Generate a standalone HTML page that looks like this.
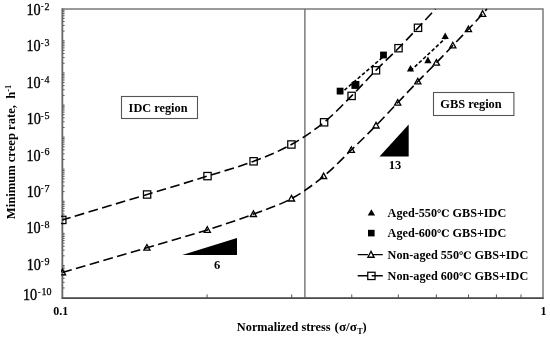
<!DOCTYPE html>
<html><head><meta charset="utf-8"><title>Creep rate vs normalized stress</title>
<style>html,body{margin:0;padding:0;background:#fff;}svg{display:block;}</style>
</head><body>
<svg width="550" height="338" viewBox="0 0 550 338">
<rect width="550" height="338" fill="#fff"/>
<rect x="62.4" y="9.0" width="480.6" height="289.0" fill="none" stroke="#7a7a7a" stroke-width="1.5"/>
<path d="M62.4,31.14h2.2 M62.4,25.48h2.2 M62.4,21.47h2.2 M62.4,18.36h2.2 M62.4,15.82h2.2 M62.4,13.67h2.2 M62.4,11.81h2.2 M62.4,10.17h2.2 M62.4,40.80h2.2 M62.4,63.24h2.2 M62.4,57.58h2.2 M62.4,53.57h2.2 M62.4,50.46h2.2 M62.4,47.92h2.2 M62.4,45.77h2.2 M62.4,43.91h2.2 M62.4,42.27h2.2 M62.4,72.90h2.2 M62.4,95.34h2.2 M62.4,89.68h2.2 M62.4,85.67h2.2 M62.4,82.56h2.2 M62.4,80.02h2.2 M62.4,77.87h2.2 M62.4,76.01h2.2 M62.4,74.37h2.2 M62.4,105.00h2.2 M62.4,127.44h2.2 M62.4,121.78h2.2 M62.4,117.77h2.2 M62.4,114.66h2.2 M62.4,112.12h2.2 M62.4,109.97h2.2 M62.4,108.11h2.2 M62.4,106.47h2.2 M62.4,137.10h2.2 M62.4,159.54h2.2 M62.4,153.88h2.2 M62.4,149.87h2.2 M62.4,146.76h2.2 M62.4,144.22h2.2 M62.4,142.07h2.2 M62.4,140.21h2.2 M62.4,138.57h2.2 M62.4,169.20h2.2 M62.4,191.64h2.2 M62.4,185.98h2.2 M62.4,181.97h2.2 M62.4,178.86h2.2 M62.4,176.32h2.2 M62.4,174.17h2.2 M62.4,172.31h2.2 M62.4,170.67h2.2 M62.4,201.30h2.2 M62.4,223.74h2.2 M62.4,218.08h2.2 M62.4,214.07h2.2 M62.4,210.96h2.2 M62.4,208.42h2.2 M62.4,206.27h2.2 M62.4,204.41h2.2 M62.4,202.77h2.2 M62.4,233.40h2.2 M62.4,255.84h2.2 M62.4,250.18h2.2 M62.4,246.17h2.2 M62.4,243.06h2.2 M62.4,240.52h2.2 M62.4,238.37h2.2 M62.4,236.51h2.2 M62.4,234.87h2.2 M62.4,265.50h2.2 M62.4,287.94h2.2 M62.4,282.28h2.2 M62.4,278.27h2.2 M62.4,275.16h2.2 M62.4,272.62h2.2 M62.4,270.47h2.2 M62.4,268.61h2.2 M62.4,266.97h2.2 M207.08,298.0v-3.6 M291.70,298.0v-3.6 M351.75,298.0v-3.6 M398.32,298.0v-3.6 M436.38,298.0v-3.6 M468.55,298.0v-3.6 M496.43,298.0v-3.6 M521.01,298.0v-3.6" stroke="#444" stroke-width="0.9" fill="none"/>
<line x1="62.4" y1="8.25" x2="62.4" y2="298.75" stroke="#666" stroke-width="1.5"/>
<line x1="61.65" y1="298.3" x2="543.75" y2="298.3" stroke="#4a4a4a" stroke-width="1.4"/>
<line x1="304.9" y1="9.0" x2="304.9" y2="298.0" stroke="#666" stroke-width="1.3"/>
<defs><clipPath id="pc"><rect x="61.1" y="8" width="483" height="291"/></clipPath></defs>
<g clip-path="url(#pc)">
<path d="M62.30,219.90 C76.43,215.67 122.90,201.80 147.10,194.50 C171.30,187.20 189.75,181.63 207.50,176.10 C225.25,170.57 239.62,166.57 253.60,161.30 C267.58,156.03 279.65,151.00 291.40,144.50 C303.15,138.00 314.07,130.40 324.10,122.30 C334.13,114.20 342.95,104.57 351.60,95.90 C360.25,87.23 368.18,78.25 376.00,70.30 C383.82,62.35 391.50,55.28 398.50,48.20 C405.50,41.12 411.83,34.33 418.00,27.80 C424.17,21.27 432.58,12.13 435.50,9.00" fill="none" stroke="#000" stroke-width="1.6" stroke-dasharray="9.8 4.4" stroke-dashoffset="1.0"/>
<path d="M62.50,272.40 C76.57,268.28 122.77,254.78 146.90,247.70 C171.03,240.62 189.55,235.50 207.30,229.90 C225.05,224.30 239.37,219.32 253.40,214.10 C267.43,208.88 279.80,204.90 291.50,198.60 C303.20,192.30 313.63,184.40 323.60,176.30 C333.57,168.20 342.57,158.45 351.30,150.00 C360.03,141.55 368.27,133.47 376.00,125.60 C383.73,117.73 390.73,110.15 397.70,102.80 C404.67,95.45 411.35,88.18 417.80,81.50 C424.25,74.82 430.57,68.70 436.40,62.70 C442.23,56.70 447.47,51.07 452.80,45.50 C458.13,39.93 463.43,34.57 468.40,29.30 C473.37,24.03 479.50,17.28 482.60,13.90 C485.70,10.52 486.27,9.82 487.00,9.00" fill="none" stroke="#000" stroke-width="1.6" stroke-dasharray="9.8 4.4" stroke-dashoffset="0"/>
<path d="M340.10,93.88 L383.50,56.51" fill="none" stroke="#000" stroke-width="1.6" stroke-dasharray="3.6 2.2" stroke-dashoffset="0"/>
<path d="M410.50,70.84 L445.20,38.46" fill="none" stroke="#000" stroke-width="1.6" stroke-dasharray="3.6 2.2" stroke-dashoffset="0"/>
<rect x="58.65" y="216.25" width="7.3" height="7.3" fill="none" stroke="#000" stroke-width="1.25"/>
<rect x="143.45" y="190.85" width="7.3" height="7.3" fill="none" stroke="#000" stroke-width="1.25"/>
<rect x="203.85" y="172.45" width="7.3" height="7.3" fill="none" stroke="#000" stroke-width="1.25"/>
<rect x="249.95" y="157.65" width="7.3" height="7.3" fill="none" stroke="#000" stroke-width="1.25"/>
<rect x="287.75" y="140.85" width="7.3" height="7.3" fill="none" stroke="#000" stroke-width="1.25"/>
<rect x="320.45" y="118.65" width="7.3" height="7.3" fill="none" stroke="#000" stroke-width="1.25"/>
<rect x="347.95" y="92.25" width="7.3" height="7.3" fill="none" stroke="#000" stroke-width="1.25"/>
<rect x="372.35" y="66.65" width="7.3" height="7.3" fill="none" stroke="#000" stroke-width="1.25"/>
<rect x="394.85" y="44.55" width="7.3" height="7.3" fill="none" stroke="#000" stroke-width="1.25"/>
<rect x="414.35" y="24.15" width="7.3" height="7.3" fill="none" stroke="#000" stroke-width="1.25"/>
<path d="M62.50,269.20L65.60,274.80L59.40,274.80Z" fill="none" stroke="#000" stroke-width="1.3" stroke-linejoin="miter"/>
<path d="M146.90,244.50L150.00,250.10L143.80,250.10Z" fill="none" stroke="#000" stroke-width="1.3" stroke-linejoin="miter"/>
<path d="M207.30,226.70L210.40,232.30L204.20,232.30Z" fill="none" stroke="#000" stroke-width="1.3" stroke-linejoin="miter"/>
<path d="M253.40,210.90L256.50,216.50L250.30,216.50Z" fill="none" stroke="#000" stroke-width="1.3" stroke-linejoin="miter"/>
<path d="M291.50,195.40L294.60,201.00L288.40,201.00Z" fill="none" stroke="#000" stroke-width="1.3" stroke-linejoin="miter"/>
<path d="M323.60,173.10L326.70,178.70L320.50,178.70Z" fill="none" stroke="#000" stroke-width="1.3" stroke-linejoin="miter"/>
<path d="M351.30,146.80L354.40,152.40L348.20,152.40Z" fill="none" stroke="#000" stroke-width="1.3" stroke-linejoin="miter"/>
<path d="M376.00,122.40L379.10,128.00L372.90,128.00Z" fill="none" stroke="#000" stroke-width="1.3" stroke-linejoin="miter"/>
<path d="M397.70,99.60L400.80,105.20L394.60,105.20Z" fill="none" stroke="#000" stroke-width="1.3" stroke-linejoin="miter"/>
<path d="M417.80,78.30L420.90,83.90L414.70,83.90Z" fill="none" stroke="#000" stroke-width="1.3" stroke-linejoin="miter"/>
<path d="M436.40,59.50L439.50,65.10L433.30,65.10Z" fill="none" stroke="#000" stroke-width="1.3" stroke-linejoin="miter"/>
<path d="M452.80,42.30L455.90,47.90L449.70,47.90Z" fill="none" stroke="#000" stroke-width="1.3" stroke-linejoin="miter"/>
<path d="M468.40,26.10L471.50,31.70L465.30,31.70Z" fill="none" stroke="#000" stroke-width="1.3" stroke-linejoin="miter"/>
<path d="M482.60,10.70L485.70,16.30L479.50,16.30Z" fill="none" stroke="#000" stroke-width="1.3" stroke-linejoin="miter"/>
<rect x="336.70" y="87.70" width="6.8" height="6.8" fill="#000"/>
<rect x="351.40" y="82.10" width="6.8" height="6.8" fill="#000"/>
<rect x="352.60" y="81.00" width="6.8" height="6.8" fill="#000"/>
<rect x="380.10" y="51.60" width="6.8" height="6.8" fill="#000"/>
<path d="M410.50,64.90L414.10,71.50L406.90,71.50Z" fill="#000"/>
<path d="M427.90,56.60L431.50,63.20L424.30,63.20Z" fill="#000"/>
<path d="M445.20,32.50L448.80,39.10L441.60,39.10Z" fill="#000"/>
</g>
<path d="M182.2,255.1L237,238L237,255.1Z" fill="#000"/>
<path d="M379.5,156.6L408.7,124.5L408.7,156.6Z" fill="#000"/>
<rect x="121.5" y="96.5" width="76" height="22" fill="#fff" stroke="#555" stroke-width="1.1"/>
<rect x="433.5" y="92.5" width="80.4" height="23" fill="#fff" stroke="#555" stroke-width="1.1"/>
<path d="M367.7,215.6L371.4,209.3L375.1,215.6Z" fill="#000"/>
<rect x="368" y="229.8" width="6.6" height="6.6" fill="#000"/>
<line x1="357.7" y1="254.6" x2="382.8" y2="254.6" stroke="#000" stroke-width="1.4" stroke-dasharray="10.2 4.8 10.1"/>
<path d="M371.00,251.35L374.10,257.25L367.90,257.25Z" fill="none" stroke="#000" stroke-width="1.3" stroke-linejoin="miter"/>
<line x1="357.7" y1="275.7" x2="382.8" y2="275.7" stroke="#000" stroke-width="1.4" stroke-dasharray="10.2 3.8 11.1"/>
<rect x="367.75" y="272.25" width="7.3" height="7.3" fill="none" stroke="#000" stroke-width="1.25"/>
<text transform="translate(26.52,14.75) scale(0.900,1)" font-family="Liberation Serif, serif" font-size="15.8" stroke="#000" stroke-width="0.35">10</text>
<text transform="translate(41.00,9.80)" font-family="Liberation Serif, serif" font-size="10" stroke="#000" stroke-width="0.25"><tspan font-size="7.5" dy="-0.5">-</tspan><tspan dx="0.9" dy="0.5">2</tspan></text>
<text transform="translate(26.52,51.20) scale(0.900,1)" font-family="Liberation Serif, serif" font-size="15.8" stroke="#000" stroke-width="0.35">10</text>
<text transform="translate(41.00,46.40)" font-family="Liberation Serif, serif" font-size="10" stroke="#000" stroke-width="0.25"><tspan font-size="7.5" dy="-0.5">-</tspan><tspan dx="0.9" dy="0.5">3</tspan></text>
<text transform="translate(26.52,87.75) scale(0.900,1)" font-family="Liberation Serif, serif" font-size="15.8" stroke="#000" stroke-width="0.35">10</text>
<text transform="translate(41.00,82.80)" font-family="Liberation Serif, serif" font-size="10" stroke="#000" stroke-width="0.25"><tspan font-size="7.5" dy="-0.5">-</tspan><tspan dx="0.9" dy="0.5">4</tspan></text>
<text transform="translate(26.72,124.05) scale(0.900,1)" font-family="Liberation Serif, serif" font-size="15.8" stroke="#000" stroke-width="0.35">10</text>
<text transform="translate(41.00,119.10)" font-family="Liberation Serif, serif" font-size="10" stroke="#000" stroke-width="0.25"><tspan font-size="7.5" dy="-0.5">-</tspan><tspan dx="0.9" dy="0.5">5</tspan></text>
<text transform="translate(26.52,160.80) scale(0.900,1)" font-family="Liberation Serif, serif" font-size="15.8" stroke="#000" stroke-width="0.35">10</text>
<text transform="translate(41.00,155.10)" font-family="Liberation Serif, serif" font-size="10" stroke="#000" stroke-width="0.25"><tspan font-size="7.5" dy="-0.5">-</tspan><tspan dx="0.9" dy="0.5">6</tspan></text>
<text transform="translate(26.72,197.25) scale(0.900,1)" font-family="Liberation Serif, serif" font-size="15.8" stroke="#000" stroke-width="0.35">10</text>
<text transform="translate(41.00,191.50)" font-family="Liberation Serif, serif" font-size="10" stroke="#000" stroke-width="0.25"><tspan font-size="7.5" dy="-0.5">-</tspan><tspan dx="0.9" dy="0.5">7</tspan></text>
<text transform="translate(26.52,233.40) scale(0.900,1)" font-family="Liberation Serif, serif" font-size="15.8" stroke="#000" stroke-width="0.35">10</text>
<text transform="translate(41.00,228.20)" font-family="Liberation Serif, serif" font-size="10" stroke="#000" stroke-width="0.25"><tspan font-size="7.5" dy="-0.5">-</tspan><tspan dx="0.9" dy="0.5">8</tspan></text>
<text transform="translate(26.72,269.75) scale(0.900,1)" font-family="Liberation Serif, serif" font-size="15.8" stroke="#000" stroke-width="0.35">10</text>
<text transform="translate(41.00,264.90)" font-family="Liberation Serif, serif" font-size="10" stroke="#000" stroke-width="0.25"><tspan font-size="7.5" dy="-0.5">-</tspan><tspan dx="0.9" dy="0.5">9</tspan></text>
<text transform="translate(23.02,299.95) scale(0.900,1)" font-family="Liberation Serif, serif" font-size="15.8" stroke="#000" stroke-width="0.35">10</text>
<text transform="translate(38.00,295.10)" font-family="Liberation Serif, serif" font-size="10" stroke="#000" stroke-width="0.25"><tspan font-size="7.5" dy="-0.5">-</tspan><tspan dx="0.9" dy="0.5">10</tspan></text>
<text transform="translate(53.30,315.00)" font-family="Liberation Serif, serif" font-size="12" font-weight="bold">0.1</text>
<text transform="translate(540.60,314.90)" font-family="Liberation Serif, serif" font-size="12" font-weight="bold">1</text>
<text transform="translate(236.85,330.80)" font-family="Liberation Serif, serif" font-size="12.3" font-weight="bold">Normalized stress</text>
<text transform="translate(334.60,330.80) scale(1.070,1)" font-family="Liberation Serif, serif" font-size="12.3" font-weight="bold">(σ/σ</text>
<text transform="translate(357.30,333.60)" font-family="Liberation Serif, serif" font-size="8.2" font-weight="bold">T</text>
<text transform="translate(362.60,330.80)" font-family="Liberation Serif, serif" font-size="12.3" font-weight="bold">)</text>
<text transform="translate(14.6,219.25) rotate(-90)" font-family="Liberation Serif, serif" font-size="12.6" font-weight="bold" xml:space="preserve">Minimum creep rate,  h<tspan font-size="8.6" dy="-3.6">-1</tspan></text>
<text transform="translate(128.60,111.60)" font-family="Liberation Serif, serif" font-size="12.3" font-weight="bold">IDC region</text>
<text transform="translate(440.30,107.70)" font-family="Liberation Serif, serif" font-size="12.4" font-weight="bold">GBS region</text>
<text transform="translate(214.10,268.80)" font-family="Liberation Serif, serif" font-size="12.5" font-weight="bold">6</text>
<text transform="translate(388.80,168.50)" font-family="Liberation Serif, serif" font-size="12.5" font-weight="bold">13</text>
<text transform="translate(387.60,216.50)" font-family="Liberation Serif, serif" font-size="12.2" font-weight="bold">Aged-550<tspan font-family="DejaVu Serif, serif" font-size="10.4">℃</tspan> GBS+IDC</text>
<text transform="translate(387.60,237.20)" font-family="Liberation Serif, serif" font-size="12.2" font-weight="bold">Aged-600<tspan font-family="DejaVu Serif, serif" font-size="10.4">℃</tspan> GBS+IDC</text>
<text transform="translate(387.60,258.50)" font-family="Liberation Serif, serif" font-size="12.2" font-weight="bold">Non-aged 550<tspan font-family="DejaVu Serif, serif" font-size="10.4">℃</tspan> GBS+IDC</text>
<text transform="translate(387.60,280.30)" font-family="Liberation Serif, serif" font-size="12.2" font-weight="bold">Non-aged 600<tspan font-family="DejaVu Serif, serif" font-size="10.4">℃</tspan> GBS+IDC</text>
</svg>
</body></html>
